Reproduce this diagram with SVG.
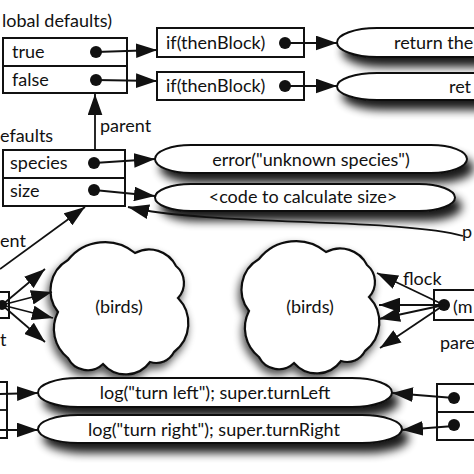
<svg xmlns="http://www.w3.org/2000/svg" width="474" height="474" viewBox="0 0 474 474">
<style>
text{font-family:Lato,"Open Sans","DejaVu Sans",sans-serif;font-size:18px;fill:#111}
.box{fill:#fff;stroke:#111;stroke-width:2}
.pill{fill:#fff;stroke:#111;stroke-width:2;filter:url(#sh)}
.cloud{fill:#fff;stroke:#111;stroke-width:2.2;filter:url(#shc)}
.ln{fill:none;stroke:#111;stroke-width:1.8;marker-end:url(#ah)}
.plain{fill:none;stroke:#111;stroke-width:1.8}
.dot{fill:#111}
</style>
<defs>
<marker id="ah" markerUnits="userSpaceOnUse" viewBox="0 0 20 14" markerWidth="21" markerHeight="15" refX="20" refY="7" orient="auto"><path d="M0,0 L20,7 L0,14 z" fill="#111"/></marker>
<filter id="sh" x="-10%" y="-40%" width="125%" height="230%"><feGaussianBlur in="SourceAlpha" stdDeviation="5"/><feOffset dx="6" dy="9"/><feComponentTransfer><feFuncA type="linear" slope="0.9"/></feComponentTransfer><feMerge><feMergeNode/><feMergeNode in="SourceGraphic"/></feMerge></filter>
<filter id="shc" x="-30%" y="-30%" width="160%" height="160%"><feGaussianBlur in="SourceAlpha" stdDeviation="4.5"/><feOffset dx="-2" dy="5"/><feComponentTransfer><feFuncA type="linear" slope="0.7"/></feComponentTransfer><feMerge><feMergeNode/><feMergeNode in="SourceGraphic"/></feMerge></filter>
<path id="cloudShape" d="M -62 6 A 35 35 0 0 1 -52 -46 A 47 47 0 0 1 15 -53 A 30 30 0 0 1 56 -40 A 22 22 0 0 1 58 -8 A 36 36 0 0 1 54 46 A 20 20 0 0 1 30 56 A 30 30 0 0 1 -17 58 A 22 22 0 0 1 -52 52 A 37 37 0 0 1 -62 6 Z"/>
</defs>
<rect width="474" height="474" fill="#fff"/>

<g id="global-defaults">
<text x="2" y="27">lobal defaults)</text>
<rect class="box" x="3" y="38" width="124" height="55"/>
<line class="plain" x1="3" y1="66" x2="127" y2="66"/>
<text x="12" y="58">true</text>
<text x="12" y="86">false</text>
<circle class="dot" cx="96" cy="52" r="6"/>
<circle class="dot" cx="96" cy="80" r="6"/>
</g>

<g id="if-true">
<rect class="box" x="157" y="28" width="147" height="29"/>
<text x="166" y="48.5">if(thenBlock)</text>
<circle class="dot" cx="285" cy="43" r="6"/>
</g>
<g id="if-false">
<rect class="box" x="157" y="72" width="147" height="28"/>
<text x="166" y="92">if(thenBlock)</text>
<circle class="dot" cx="285" cy="86" r="6"/>
</g>

<g id="return-true">
<rect class="pill" x="337" y="28" width="300" height="29" rx="40" ry="14.5"/>
<text x="394" y="49">return the</text>
</g>
<g id="return-false">
<rect class="pill" x="337" y="73" width="300" height="27" rx="40" ry="13.5"/>
<text x="449" y="93">ret</text>
</g>

<g id="species-defaults">
<text x="0" y="142">efaults</text>
<rect class="box" x="3" y="150" width="122" height="56"/>
<line class="plain" x1="3" y1="178" x2="125" y2="178"/>
<text x="10" y="169">species</text>
<text x="10" y="197">size</text>
<circle class="dot" cx="94" cy="163" r="6"/>
<circle class="dot" cx="94" cy="190" r="6"/>
</g>

<g id="error-species">
<rect class="pill" x="155" y="145" width="312" height="28" rx="36" ry="14"/>
<text x="311" y="165.5" text-anchor="middle">error("unknown species")</text>
</g>
<g id="code-size">
<rect class="pill" x="155" y="184" width="300" height="27" rx="36" ry="13.5"/>
<text x="303" y="203" text-anchor="middle">&lt;code to calculate size&gt;</text>
</g>

<g id="flock-left">
<rect class="box" x="-20" y="292" width="29" height="26"/>
<circle class="dot" cx="2" cy="305" r="5"/>
<text x="0" y="247">ent</text>
<text x="0" y="346">t</text>
</g>

<g id="birds-left">
<use href="#cloudShape" class="cloud" transform="translate(120,306)"/>
<text x="119" y="313" text-anchor="middle">(birds)</text>
</g>
<g id="birds-right">
<use href="#cloudShape" class="cloud" transform="translate(311,305)"/>
<text x="310" y="313" text-anchor="middle">(birds)</text>
</g>

<g id="flock-right">
<rect class="box" x="434" y="290" width="60" height="30"/>
<circle class="dot" cx="444" cy="305" r="6"/>
<text x="453" y="313">(m</text>
<text x="403" y="285">flock</text>
<text x="440" y="349">pare</text>
<text x="462" y="238">p</text>
</g>

<g id="turn-left">
<rect class="pill" x="38" y="378" width="354" height="29" rx="40" ry="14.5"/>
<text x="215" y="398.5" text-anchor="middle">log("turn left"); super.turnLeft</text>
</g>
<g id="turn-right">
<rect class="pill" x="38" y="415" width="364" height="28" rx="40" ry="14"/>
<text x="214" y="435.5" text-anchor="middle">log("turn right"); super.turnRight</text>
</g>

<g id="bottom-left-box">
<rect class="box" x="-20" y="382" width="27" height="56"/>
<line class="plain" x1="-20" y1="410" x2="7" y2="410"/>
</g>
<g id="bottom-right-box">
<rect class="box" x="437" y="384" width="60" height="56"/>
<line class="plain" x1="437" y1="412" x2="497" y2="412"/>
<circle class="dot" cx="454" cy="398" r="6"/>
<circle class="dot" cx="454" cy="425" r="6"/>
</g>

<g id="connectors">
<line class="ln" x1="96" y1="52" x2="157" y2="50"/>
<line class="ln" x1="96" y1="80" x2="157" y2="81"/>
<line class="ln" x1="285" y1="43" x2="337" y2="43"/>
<line class="ln" x1="285" y1="86" x2="337" y2="86"/>
<line class="ln" x1="95" y1="150" x2="95" y2="94"/>
<text x="100" y="132">parent</text>
<line class="ln" x1="94" y1="163" x2="155" y2="159"/>
<line class="ln" x1="94" y1="190" x2="155" y2="196"/>
<path class="ln" d="M 463 236 C 400 218, 210 226, 128 207"/>
<line class="ln" x1="0" y1="269" x2="85" y2="207"/>
<line class="ln" x1="2" y1="305" x2="45" y2="269"/>
<line class="ln" x1="2" y1="305" x2="52" y2="292"/>
<line class="ln" x1="2" y1="305" x2="53" y2="318"/>
<line class="ln" x1="2" y1="305" x2="45" y2="342"/>
<line class="ln" x1="444" y1="305" x2="377" y2="273"/>
<line class="ln" x1="444" y1="305" x2="379" y2="305"/>
<line class="ln" x1="444" y1="305" x2="379" y2="319"/>
<line class="ln" x1="444" y1="305" x2="380" y2="348"/>
<line class="ln" x1="0" y1="394" x2="38" y2="393"/>
<line class="ln" x1="0" y1="430" x2="38" y2="430"/>
<line class="ln" x1="454" y1="398" x2="392" y2="393"/>
<line class="ln" x1="454" y1="426" x2="402" y2="430"/>
</g>
</svg>
